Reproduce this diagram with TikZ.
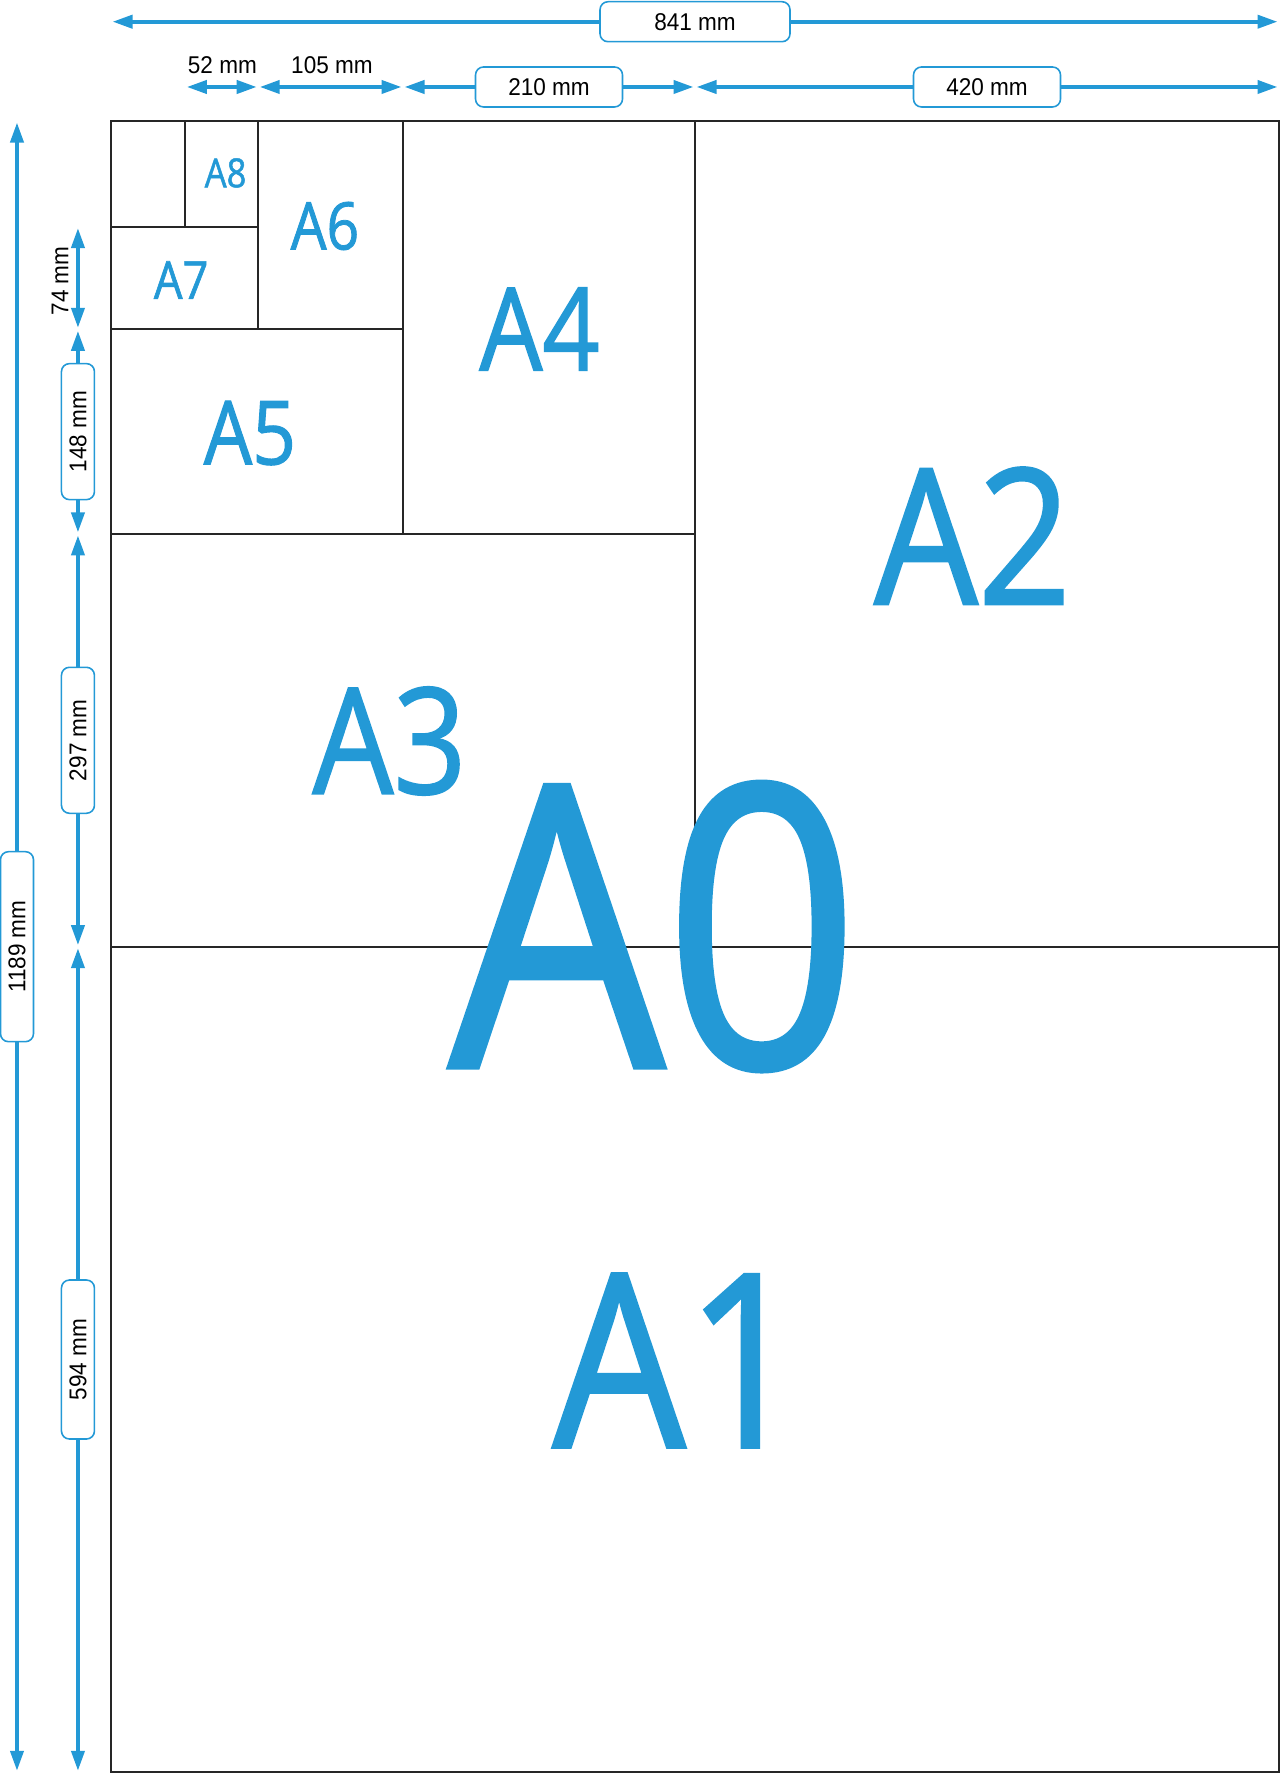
\documentclass[tikz,border=0pt]{standalone}
\usepackage{fontspec}
\usepackage{xcolor}
\usepackage{tikz}
\usetikzlibrary{arrows.meta}
\setmainfont{Liberation Sans}
\newfontfamily\sizefont[FakeStretch=0.865, FakeBold=1.2]{Open Sans}
\newfontfamily\dimfont[FakeStretch=0.93]{Liberation Sans}
\definecolor{dimblue}{RGB}{35,153,214}

\begin{document}
\begin{tikzpicture}[x=0.13888mm, y=-0.13888mm,
    sheet/.style={draw=black!85, line width=0.6pt},
    dimline/.style={draw=dimblue, line width=1.1pt, shorten >=0.15mm, shorten <=0.15mm,
        {Triangle[length=2mm,width=1.3mm]}-{Triangle[length=2mm,width=1.3mm]}},
    dimbox/.style={draw=dimblue, line width=0.45pt, fill=white, rounded corners=0.8mm,
        inner sep=0pt, minimum height=4mm, text=black, font=\dimfont\fontsize{6.9pt}{8pt}\selectfont},
    dimtext/.style={inner sep=0pt, text=black, font=\dimfont\fontsize{6.9pt}{8pt}\selectfont},
    sizelabel/.style={inner sep=0pt, text=dimblue}]
    \useasboundingbox (-79.93,-87.13) rectangle (841.73,1190.2);

    % Sheets
    \draw[sheet] (0,0) rectangle (841,1189);
    \draw[sheet] (0,594.5) -- (841,594.5);
    \draw[sheet] (420.5,0) -- (420.5,594.5);
    \draw[sheet] (0,297.3) -- (420.5,297.3);
    \draw[sheet] (210.25,0) -- (210.25,297.3);
    \draw[sheet] (0,150) -- (210.25,150);
    \draw[sheet] (106,0) -- (106,150);
    \draw[sheet] (0,76) -- (106,76);
    \draw[sheet] (53.5,0) -- (53.5,76);

    % Sheet labels
    \node[sizelabel, font=\sizefont\fontsize{112pt}{116pt}\selectfont] (a0) at (391,580) {A0};
    \node[sizelabel, font=\sizefont\fontsize{69pt}{72pt}\selectfont] (a1) at (409,892.5) {A1};
    \node[sizelabel, font=\sizefont\fontsize{53.8pt}{56pt}\selectfont] (a2) at (620.5,298.6) {A2};
    \node[sizelabel, font=\sizefont\fontsize{42pt}{44pt}\selectfont] (a3) at (200.5,446.4) {A3};
    \node[sizelabel, font=\sizefont\fontsize{32.8pt}{35pt}\selectfont] (a4) at (308.5,149.8) {A4};
    \node[sizelabel, font=\sizefont\fontsize{25.2pt}{27pt}\selectfont] (a5) at (100,224.7) {A5};
    \node[sizelabel, font=\sizefont\fontsize{18.7pt}{20pt}\selectfont] (a6) at (154,75.6) {A6};
    \node[sizelabel, font=\sizefont\fontsize{14.9pt}{16pt}\selectfont] (a7) at (50.5,114.5) {A7};
    \node[sizelabel, font=\sizefont\fontsize{11.4pt}{13pt}\selectfont] (a8) at (82.5,37.4) {A8};

    % Widths
    \coordinate (w0) at (0,-71.5);
    \coordinate (w1) at (841,-71.5);
    \draw[dimline] (w0) -- node[dimbox, minimum width=19mm] (d841) {841 mm} (w1);

    \coordinate (c0) at (53.5,-24.5);
    \coordinate (c1) at (106,-24.5);
    \coordinate (c2) at (210.25,-24.5);
    \coordinate (c3) at (420.5,-24.5);
    \coordinate (c4) at (841,-24.5);
    \draw[dimline] (c0) -- (c1);
    \draw[dimline] (c1) -- (c2);
    \draw[dimline] (c2) -- node[dimbox, minimum width=14.7mm] (d210) {210 mm} (c3);
    \draw[dimline] (c3) -- node[dimbox, minimum width=14.7mm] (d420) {420 mm} (c4);
    \node[dimtext] (d52) at (80.2,-40.2) {52 mm};
    \node[dimtext] (d105) at (159.1,-40.3) {105 mm};

    % Heights
    \coordinate (t0) at (-67.7,0);
    \coordinate (t1) at (-67.7,1189);
    \draw[dimline] (t0) -- node[dimbox, rotate=90, minimum width=19mm, minimum height=3.3mm] (d1189) {1189 mm} (t1);

    \coordinate (r0) at (-23.8,76);
    \coordinate (r1) at (-23.8,150);
    \coordinate (r2) at (-23.8,297.3);
    \coordinate (r3) at (-23.8,594.5);
    \coordinate (r4) at (-23.8,1189);
    \draw[dimline] (r0) -- (r1);
    \draw[dimline] (r1) -- node[dimbox, rotate=90, minimum width=13.6mm, minimum height=3.3mm] (d148) {148 mm} (r2);
    \draw[dimline] (r2) -- node[dimbox, rotate=90, minimum width=14.6mm, minimum height=3.3mm] (d297) {297 mm} (r3);
    \draw[dimline] (r3) -- node[dimbox, rotate=90, minimum width=15.9mm, minimum height=3.3mm] (d594) {594 mm} (r4);
    \node[dimtext, rotate=90] (d74) at (-36.7,115.2) {74 mm};
\end{tikzpicture}
\end{document}
